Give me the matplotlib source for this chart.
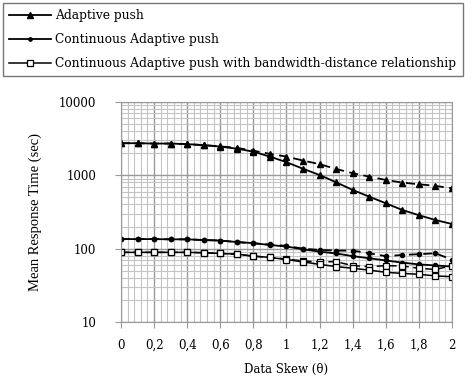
import matplotlib
matplotlib.use("Agg")
import matplotlib.pyplot as plt
from matplotlib.ticker import MultipleLocator, LogLocator, FixedLocator, NullFormatter
import numpy as np

skew = [0, 0.1, 0.2, 0.3, 0.4, 0.5, 0.6, 0.7, 0.8, 0.9, 1.0,
        1.1, 1.2, 1.3, 1.4, 1.5, 1.6, 1.7, 1.8, 1.9, 2.0]

# Adaptive push (two runs: solid / dashed)
ap_solid = [2740, 2740, 2710, 2710, 2660, 2580, 2460, 2310, 2100, 1800, 1510,
            1230, 1010, 804, 632, 512, 416, 337, 286, 246, 217]
ap_dash = [2740, 2740, 2710, 2710, 2660, 2580, 2480, 2366, 2170, 1960, 1800,
           1590, 1420, 1220, 1070, 960, 865, 795, 756, 717, 667]

# Continuous Adaptive push
cap_solid = [135, 135, 135, 134, 134, 131, 129, 123, 119, 112, 107,
             98, 91, 86, 79, 74, 69, 64.5, 61, 59, 57]
cap_dash = [135, 135, 135, 134, 134, 131, 129, 123, 118, 114, 109,
            100, 96, 94, 94, 86.5, 79, 82, 84, 86.5, 71]

# Continuous Adaptive push with bandwidth-distance relationship
bw_upper = [89, 89, 89, 89, 89, 88, 86, 84, 79, 76, 72,
            68, 66, 66.5, 58.6, 56.8, 58.6, 58, 54, 52, 58.6]
bw_lower = [89, 89, 89, 89, 89, 88, 86, 84, 79, 76, 71,
            66, 61, 57, 54, 51, 47.6, 46, 44.7, 42.5, 41.5]

xticklabels = ["0", "0,2", "0,4", "0,6", "0,8", "1", "1,2", "1,4", "1,6", "1,8", "2"]

fig = plt.figure(figsize=(4.74, 3.87), dpi=100)
ax = fig.add_axes([0.2553, 0.168, 0.698, 0.5685])

ax.set_yscale("log")
ax.set_xlim(0, 2)
ax.set_ylim(10, 10000)

# grid
ax.xaxis.set_major_locator(FixedLocator(np.arange(0, 2.01, 0.2)))
ax.xaxis.set_minor_locator(MultipleLocator(0.04))
ax.yaxis.set_major_locator(LogLocator(base=10, numticks=10))
ax.yaxis.set_minor_locator(LogLocator(base=10, subs=np.arange(2, 10), numticks=10))
ax.yaxis.set_minor_formatter(NullFormatter())
ax.grid(which="major", color="#999999", lw=1.0)
ax.grid(which="minor", color="#c4c4c4", lw=0.8)
ax.set_axisbelow(True)
for s in ax.spines.values():
    s.set_color("#999999")

ax.plot(skew, ap_solid, "k-", marker="^", ms=5, lw=1.3, label="Adaptive push")
ax.plot(skew, ap_dash, "k--", marker="^", ms=5, lw=1.3, dashes=(5, 3))
ax.plot(skew, cap_solid, "k-", marker="o", ms=3, lw=1.3, label="Continuous Adaptive push")
ax.plot(skew, cap_dash, "k--", marker="o", ms=3, lw=1.3, dashes=(5, 3))
ax.plot(skew, bw_upper, "k--", marker="s", ms=5, mfc="white", mew=0.9, lw=1.1, dashes=(5, 3))
ax.plot(skew, bw_lower, "k-", marker="s", ms=5, mfc="white", mew=0.9, lw=1.1,
        label="Continuous Adaptive push with bandwidth-distance relationship")

ax.set_xticklabels(xticklabels, family="DejaVu Serif", fontsize=8.5)
ax.set_yticks([10, 100, 1000, 10000])
ax.set_yticklabels(["10", "100", "1000", "10000"], family="DejaVu Serif", fontsize=8.5)
ax.tick_params(which="major", length=4, color="#999999", pad=8)
ax.tick_params(which="minor", length=0)
ax.tick_params(axis="y", pad=14)

ax.set_xlabel("Data Skew (\u03b8)", family="DejaVu Serif", fontsize=8.5, labelpad=8)
ax.set_ylabel("Mean Response Time (sec)", family="Liberation Serif", fontsize=10.5, labelpad=12)

handles, labels = ax.get_legend_handles_labels()
leg = fig.legend(handles, labels, loc="upper left", bbox_to_anchor=(0.006, 0.993),
                 prop={"family": "DejaVu Serif", "size": 8.8}, frameon=True, fancybox=False,
                 edgecolor="#555555", handlelength=3.4, labelspacing=0.9, borderpad=0.5,
                 handletextpad=0.4, borderaxespad=0, markerscale=0.8)
leg.get_frame().set_linewidth(1.0)

fig.savefig("out.png", dpi=100)
